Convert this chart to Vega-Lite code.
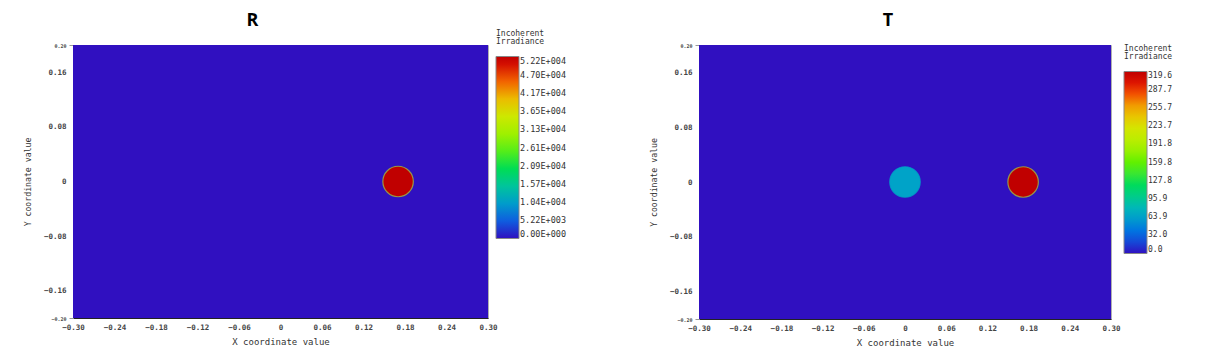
{
  "$schema": "https://vega.github.io/schema/vega-lite/v6.json",
  "background": "white",
  "padding": {"left": 22, "top": 11, "right": 0, "bottom": 0},
  "spacing": 80,
  "config": {
    "view": {"stroke": "#b0b0b0", "strokeWidth": 1},
    "axis": {
      "labelFont": "DejaVu Sans Mono",
      "labelFontSize": 7.5,
      "labelColor": "#444444",
      "labelFontWeight": "bold",
      "titleFont": "DejaVu Sans Mono",
      "titleFontSize": 9,
      "titleFontWeight": "normal",
      "titleColor": "#333333",
      "grid": false
    },
    "title": {"font": "Open Sans", "fontSize": 18, "fontWeight": "bold", "color": "#000000"}
  },
  "resolve": {"scale": {"color": "independent"}},
  "hconcat": [
    {
      "width": 415,
      "height": 273,
      "title": {"text": "R", "dx": -28, "offset": 0},
      "data": {"values": [
        {"x": -0.3, "x2": 0.3, "y": -0.2, "y2": 0.2, "irradiance": 0, "kind": "background"},
        {"x": 0.17, "y": 0.0, "irradiance": 52200, "kind": "spot"}
      ]},
      "layer": [
        {
          "transform": [{"filter": "datum.kind == 'background'"}],
          "mark": {"type": "rect"},
          "encoding": {
            "x": {"field": "x", "type": "quantitative", "scale": {"domain": [-0.3, 0.3], "nice": false, "zero": false},
              "axis": {"title": "X coordinate value", "values": [-0.3, -0.24, -0.18, -0.12, -0.06, 0, 0.06, 0.12, 0.18, 0.24, 0.3],
                "labelExpr": "datum.value == 0 ? '0' : format(datum.value, '.2f')", "ticks": false, "labelPadding": 5, "titlePadding": 7,
                "domainColor": "#222222", "labelFlush": false}},
            "x2": {"field": "x2"},
            "y": {"field": "y", "type": "quantitative", "scale": {"domain": [-0.2, 0.2], "nice": false, "zero": false},
              "axis": {"title": "Y coordinate value", "titleFontSize": 8.2, "values": [-0.2, -0.16, -0.08, 0, 0.08, 0.16, 0.2],
                "labelExpr": "datum.value == 0 ? '0' : format(datum.value, '.2f')",
                "labelFontSize": {"condition": {"test": "abs(datum.value) > 0.19", "value": 5}, "value": 7.5},
                "tickColor": {"condition": {"test": "abs(datum.value) > 0.19", "value": "#999999"}, "value": "transparent"},
                "tickSize": 4, "labelPadding": 3, "titlePadding": 11, "domainColor": "#999999", "labelFlush": false}},
            "y2": {"field": "y2"},
            "color": {"field": "irradiance", "type": "quantitative",
              "scale": {"domain": [0, 5220, 10440, 15660, 20880, 26100, 31320, 36540, 41760, 46980, 52200],
                "range": ["#3010C0", "#1060E0", "#00A0C8", "#00C890", "#10E040", "#60F000", "#B0F000", "#D8E400", "#F0A800", "#F02000", "#C00000"]},
              "legend": {"type": "gradient", "orient": "none", "legendX": 423, "legendY": -15, "direction": "vertical",
                "title": ["Incoherent", "Irradiance"], "titleFont": "DejaVu Sans Mono", "titleFontSize": 8, "titleFontWeight": "normal", "titleColor": "#333333", "titleLineHeight": 7.5, "titlePadding": 11,
                "gradientLength": 182, "gradientThickness": 23, "gradientStrokeColor": "#888888", "gradientStrokeWidth": 1,
                "values": [0, 5220, 10400, 15700, 20900, 26100, 31300, 36500, 41700, 47000, 52200],
                "labelExpr": "upper(slice(format(datum.value, '.2e'), 0, 6)) + pad(slice(format(datum.value, '.2e'), 6), 3, '0', 'left')",
                "labelFont": "DejaVu Sans Mono", "labelFontSize": 8.5, "labelColor": "#333333", "labelOffset": 1, "labelBaseline": "middle", "labelOverlap": false}}
          }
        },
        {
          "transform": [{"filter": "datum.kind == 'spot'"}],
          "mark": {"type": "point", "shape": "circle", "filled": true, "size": 930, "opacity": 1, "strokeWidth": 1.2},
          "encoding": {
            "x": {"field": "x", "type": "quantitative"},
            "y": {"field": "y", "type": "quantitative"},
            "color": {"field": "irradiance", "type": "quantitative"},
            "stroke": {"value": "#A0B840"},
            "strokeOpacity": {"value": 0.8}
          }
        }
      ]
    },
    {
      "width": 412,
      "height": 274,
      "title": {"text": "T", "dx": -17, "offset": 13},
      "data": {"values": [
        {"x": -0.3, "x2": 0.3, "y": -0.2, "y2": 0.2, "irradiance": 0, "kind": "background"},
        {"x": 0.0, "y": 0.0, "irradiance": 66, "kind": "spot"},
        {"x": 0.172, "y": 0.0, "irradiance": 319.6, "kind": "spot"}
      ]},
      "layer": [
        {
          "transform": [{"filter": "datum.kind == 'background'"}],
          "mark": {"type": "rect"},
          "encoding": {
            "x": {"field": "x", "type": "quantitative", "scale": {"domain": [-0.3, 0.3], "nice": false, "zero": false},
              "axis": {"title": "X coordinate value", "values": [-0.3, -0.24, -0.18, -0.12, -0.06, 0, 0.06, 0.12, 0.18, 0.24, 0.3],
                "labelExpr": "datum.value == 0 ? '0' : format(datum.value, '.2f')", "ticks": false, "labelPadding": 5, "titlePadding": 7,
                "domainColor": "#222222", "labelFlush": false}},
            "x2": {"field": "x2"},
            "y": {"field": "y", "type": "quantitative", "scale": {"domain": [-0.2, 0.2], "nice": false, "zero": false},
              "axis": {"title": "Y coordinate value", "titleFontSize": 8.2, "values": [-0.2, -0.16, -0.08, 0, 0.08, 0.16, 0.2],
                "labelExpr": "datum.value == 0 ? '0' : format(datum.value, '.2f')",
                "labelFontSize": {"condition": {"test": "abs(datum.value) > 0.19", "value": 5}, "value": 7.5},
                "tickColor": {"condition": {"test": "abs(datum.value) > 0.19", "value": "#999999"}, "value": "transparent"},
                "tickSize": 4, "labelPadding": 3, "titlePadding": 11, "domainColor": "#999999", "labelFlush": false}},
            "y2": {"field": "y2"},
            "color": {"field": "irradiance", "type": "quantitative",
              "scale": {"domain": [0, 31.96, 63.92, 95.88, 127.84, 159.8, 191.76, 223.72, 255.68, 287.64, 319.6],
                "range": ["#3010C0", "#1060E0", "#00A0C8", "#00C890", "#10E040", "#60F000", "#B0F000", "#D8E400", "#F0A800", "#F02000", "#C00000"]},
              "legend": {"type": "gradient", "orient": "none", "legendX": 425, "legendY": 0, "direction": "vertical",
                "title": ["Incoherent", "Irradiance"], "titleFont": "DejaVu Sans Mono", "titleFontSize": 8, "titleFontWeight": "normal", "titleColor": "#333333", "titleLineHeight": 7.5, "titlePadding": 11,
                "gradientLength": 182, "gradientThickness": 23, "gradientStrokeColor": "#888888", "gradientStrokeWidth": 1,
                "values": [0, 32.0, 63.9, 95.9, 127.8, 159.8, 191.8, 223.7, 255.7, 287.7, 319.6],
                "format": ".1f",
                "labelFont": "DejaVu Sans Mono", "labelFontSize": 8, "labelColor": "#333333", "labelOffset": 1, "labelBaseline": "middle", "labelOverlap": false}}
          }
        },
        {
          "transform": [{"filter": "datum.kind == 'spot'"}],
          "mark": {"type": "point", "shape": "circle", "filled": true, "size": 930, "opacity": 1, "strokeWidth": 1.2},
          "encoding": {
            "x": {"field": "x", "type": "quantitative"},
            "y": {"field": "y", "type": "quantitative"},
            "color": {"field": "irradiance", "type": "quantitative"},
            "stroke": {"condition": {"test": "datum.irradiance > 300", "value": "#A0B840"}, "value": "#00A0C8"},
            "strokeOpacity": {"value": 0.8}
          }
        }
      ]
    }
  ]
}
